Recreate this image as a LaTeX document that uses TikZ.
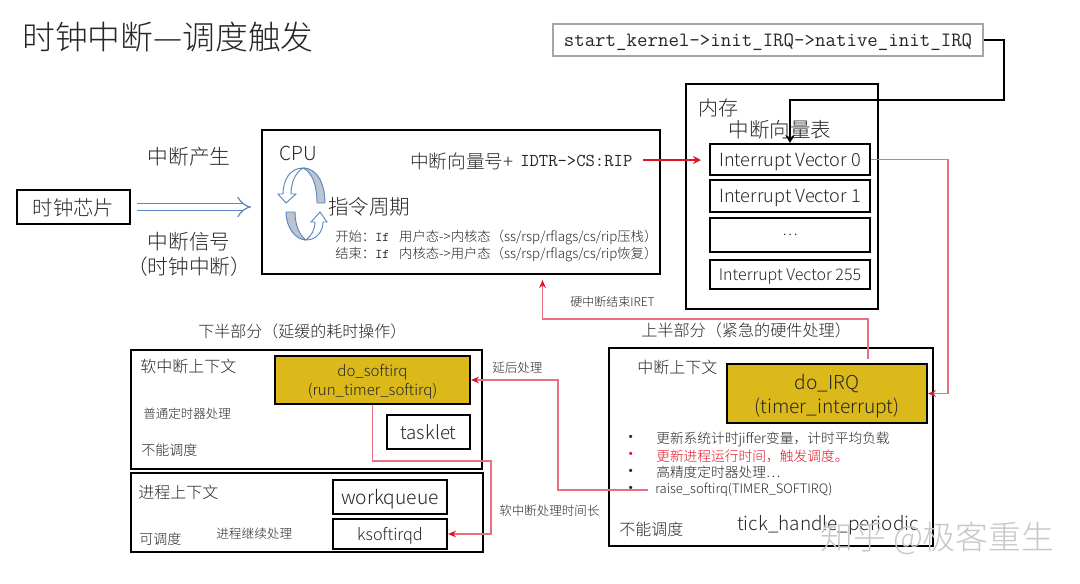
\documentclass[tikz,border=0pt]{standalone}
\usepackage{fontspec}
\setmainfont{Noto Sans CJK SC}[UprightFont=* Light]
\usetikzlibrary{arrows.meta}
\definecolor{inktext}{HTML}{262626}
\definecolor{softred}{HTML}{E5717F}
\definecolor{tipred}{HTML}{E01525}
\definecolor{gold}{HTML}{DBB91B}
\definecolor{ringblue}{HTML}{5B86C0}
\definecolor{ringgray}{HTML}{BCC4D2}
\newcommand{\fsz}[2]{\fontsize{#1}{#2}\selectfont}
\tikzset{
    box/.style 2 args={draw, line width=1.5pt, inner sep=0pt, text=inktext, text depth=0pt,
        minimum width=#1*0.75pt, minimum height=#2*0.75pt},
    goldbox/.style 2 args={box={#1}{#2}, fill=gold},
    txt/.style={font=\fsz{#1}{#1}, inner sep=0pt, text=inktext},
    ltxt/.style={txt=#1, anchor=west},
    redline/.style={draw=softred, line width=0.8pt, -{Stealth[length=6pt,width=5pt,color=tipred]}},
    ring/.style={draw=ringblue, line width=0.7pt},
}
\begin{document}
\begin{tikzpicture}[x=0.75pt,y=-0.75pt]
    \useasboundingbox (0,0) rectangle (1080,583);
    % top row
    \node[ltxt=24.6] (title) at (22,37) {时钟中断—调度触发};
    \node[box={430}{32}, draw=black!35, line width=2pt, font=\fsz{15.25}{16}\ttfamily] (startbox) at (768,40)
        {start\_kernel->init\_IRQ->native\_init\_IRQ\hspace{3.5pt}};

    % clock chip
    \node[box={113}{34}, font=\fsz{15.2}{16}] (chipbox) at (73.5,207) {时钟芯片};
    \node[txt=15.5] (irqgen) at (189,157) {中断产生};
    \node[txt=15.5, align=center, font=\fsz{15.5}{19}] (irqsig) at (189,254) {中断信号\\（时钟中断）};
    \coordinate (hollowfrom) at (137,207);
    \coordinate (hollowto) at (251,207);
    \draw[draw=ringblue, double, double distance=4.6pt, line width=0.9pt, -Implies] (hollowfrom) -- (hollowto);

    % cpu
    \node[box={398}{144}] (cpubox) at (461,202) {};
    \node[txt=14.5] (cpulabel) at (298,153) {CPU};
    \fill[ringgray] (303,168) .. controls (318,168) and (325,185) .. (325,203) -- (317,203) .. controls (317,185) and (312,172) .. (303,168) -- cycle;
    \draw[ring] (303,168) .. controls (318,168) and (325,185) .. (325,203) -- (317,203) .. controls (317,185) and (312,172) .. (303,168);
    \draw[ring, fill=white] (303,168) .. controls (290,168) and (283,180) .. (283,194) -- (278,194) -- (286,203) -- (296,194) -- (291,194) .. controls (291,182) and (296,172) .. (303,168) -- cycle;
    \fill[ringgray] (306,240) .. controls (296,240) and (286,228) .. (286,212) -- (295,212) .. controls (295,226) and (300,236) .. (306,240) -- cycle;
    \draw[ring] (306,240) .. controls (296,240) and (286,228) .. (286,212) -- (295,212) .. controls (295,226) and (300,236) .. (306,240);
    \draw[ring, fill=white] (306,240) .. controls (316,240) and (323,232) .. (323,222) -- (327,222) -- (320,212) -- (311,222) -- (315,222) .. controls (315,230) and (311,236) .. (306,240) -- cycle;
    \node[ltxt=15.4] (cyclelabel) at (328,207) {指令周期};
    \node[ltxt=14] (vecnum) at (410,161) {中断向量号+};
    \node[ltxt=13.6, font=\fsz{13.6}{14}\ttfamily] (idtr) at (520,161) {IDTR->CS:RIP};
    \node[ltxt=10] (enterline) at (335,237) {开始：{\ttfamily If\ } 用户态->内核态（ss/rsp/rflags/cs/rip压栈）};
    \node[ltxt=10] (leaveline) at (335,254) {结束：{\ttfamily If\ } 内核态->用户态（ss/rsp/rflags/cs/rip恢复）};

    % memory
    \node[box={192}{225}] (membox) at (782,196.5) {};
    \node[txt=15] (memlabel) at (718,108) {内存};
    \node[txt=15.4] (tablelabel) at (780,130) {中断向量表};
    \node[box={160}{31}, font=\fsz{13.6}{14}] (ivzero) at (790,159.5) {Interrupt Vector 0};
    \node[box={160}{32}, font=\fsz{13.6}{14}] (ivone) at (790,196) {Interrupt Vector 1};
    \node[box={160}{34}, font=\fsz{11}{13}] (ivdots) at (790,235) {…};
    \node[box={160}{29}, font=\fsz{12}{13}] (ivlast) at (790,274.5) {Interrupt Vector 255};
    \coordinate (blackjog) at (1004,100);
    \draw[line width=1.5pt, -{Stealth[length=6pt,width=7pt]}] (startbox.east) -| (blackjog) -| (ivzero.north);
    \coordinate (vecfrom) at (643,160);
    \coordinate (vecto) at (701,160);
    \draw[draw=tipred, line width=1.5pt, -{Stealth[length=6pt,width=6pt]}] (vecfrom) -- (vecto);

    % upper half
    \node[ltxt=12.1] (upperhead) at (641,330) {上半部分（紧急的硬件处理）};
    \node[box={324}{198}] (irqbox) at (771,447) {};
    \node[ltxt=12] (irqctx) at (637,367) {中断上下文};
    \node[goldbox={200}{59}, align=center, font=\fsz{14.4}{18}] (doirq) at (827,393.5) {do\_IRQ\\(timer\_interrupt)};
    \node[txt=13] (dota) at (631,439) {•};
    \node[ltxt=10.3] (linea) at (656,439) {更新系统计时jiffer变量，计时平均负载};
    \node[txt=13, text=tipred] (dotb) at (631,456) {•};
    \node[ltxt=10.3, text=tipred] (lineb) at (656,456) {更新进程运行时间，触发调度。};
    \node[txt=13] (dotc) at (631,473) {•};
    \node[ltxt=10.3] (linec) at (656,472) {高精度定时器处理…};
    \node[txt=13] (dotd) at (631,490) {•};
    \node[ltxt=9.75] (lined) at (655,490) {raise\_softirq(TIMER\_SOFTIRQ)};
    \node[ltxt=12] (irqnosched) at (619,529) {不能调度};
    \node[ltxt=14.2] (tickname) at (737,525) {tick\_handle\_periodic};

    % lower half
    \node[ltxt=12] (lowerhead) at (198,331) {下半部分（延缓的耗时操作）};
    \node[box={351}{119}] (softbox) at (306.5,409.5) {};
    \node[ltxt=12] (softctx) at (140,366) {软中断上下文};
    \node[goldbox={195}{48}, align=center, font=\fsz{11.3}{14.5}] (dosoft) at (372.5,380) {do\_softirq\\(run\_timer\_softirq)};
    \node[ltxt=9.4] (plaintimer) at (143,414) {普通定时器处理};
    \node[ltxt=10.5] (softnosched) at (141,450) {不能调度};
    \node[box={83}{34}, font=\fsz{14}{15}] (tasklet) at (428.5,432) {tasklet};
    \node[box={352}{79}] (procbox) at (307,512.5) {};
    \node[ltxt=12] (procctx) at (138,492) {进程上下文};
    \node[ltxt=10.5] (procsched) at (139,539) {可调度};
    \node[ltxt=9.5] (proccont) at (216,534) {进程继续处理};
    \node[box={114}{34}, font=\fsz{14.4}{15}] (workq) at (390,497) {workqueue};
    \node[box={114}{30}, font=\fsz{12.2}{13}] (ksoft) at (390,534) {ksoftirqd};

    % red connectors
    \coordinate (ivjog) at (948,300);
    \draw[redline] (ivzero.east) -| (ivjog) |- (doirq.east);
    \coordinate (iretfrom) at (868,359);
    \coordinate (iretjog) at (542.5,319);
    \coordinate (iretto) at (542.5,280);
    \draw[redline] (iretfrom) |- (iretjog) -- (iretto);
    \node[ltxt=9] (iretlabel) at (570,302) {硬中断结束IRET};
    \coordinate (raisefrom) at (648,490);
    \coordinate (delayjog) at (558,440);
    \draw[redline] (raisefrom) -| (delayjog) |- (dosoft.east);
    \node[ltxt=9.4] (delaylabel) at (492,368) {延后处理};
    \coordinate (longjog) at (491,461);
    \draw[redline] (dosoft.south) |- (longjog) |- (ksoft.east);
    \node[ltxt=9.4] (longlabel) at (499,511) {软中断处理时间长};

    % watermark
    \node[ltxt=24.6, text=black!22] (mark) at (820,538) {知乎 @极客重生};
\end{tikzpicture}
\end{document}
